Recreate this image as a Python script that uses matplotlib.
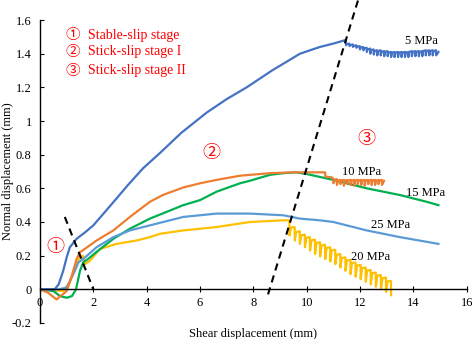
import numpy as np
import matplotlib
matplotlib.use("Agg")
import matplotlib.pyplot as plt

plt.rcParams['font.family'] = ['Liberation Serif', 'Noto Sans CJK SC', 'DejaVu Sans']

# ---- data ----
# 5 MPa
x5 = [0, 0.55, 0.7, 0.87, 1.0, 1.12, 1.37, 1.7, 2.0, 2.6, 3.3, 3.87, 4.5, 5.3, 6.25,
      7.0, 7.75, 8.7, 9.75, 10.5, 11.0, 11.44]
y5 = [0, 0, 0.03, 0.11, 0.19, 0.25, 0.30, 0.34, 0.38, 0.49, 0.62, 0.72, 0.81, 0.93,
      1.05, 1.13, 1.20, 1.30, 1.40, 1.44, 1.46, 1.48]
x5_ss = [11.47, 11.60, 11.73, 11.86, 11.99, 12.12, 12.25, 12.38, 12.51, 12.64, 12.77,
         12.90, 13.03, 13.16, 13.29, 13.42, 13.55, 13.68, 13.81, 13.94, 14.07, 14.20,
         14.33, 14.46, 14.59, 14.72, 14.85]
top5_ss = [1.48, 1.46, 1.455, 1.45, 1.445, 1.44, 1.435, 1.43, 1.425, 1.42, 1.42, 1.415,
           1.415, 1.41, 1.41, 1.41, 1.41, 1.41, 1.41, 1.415, 1.415, 1.415, 1.415, 1.42,
           1.42, 1.42, 1.42]
bot5_ss = [1.45, 1.445, 1.44, 1.435, 1.425, 1.42, 1.41, 1.40, 1.395, 1.39, 1.39, 1.385,
           1.385, 1.38, 1.38, 1.38, 1.38, 1.38, 1.38, 1.385, 1.385, 1.385, 1.385, 1.39,
           1.39, 1.39, 1.39]
x5_end, y5_end = [14.94], [1.41]

# 10 MPa
x10 = [0, 0.3, 0.62, 0.85, 1.0, 1.2, 1.37, 1.5, 2.12, 2.75, 3.37, 4.12, 4.6, 5.37, 6.0,
       6.62, 7.5, 7.87, 8.62, 9.5, 10.69, 10.70, 10.95]
y10 = [0, -0.02, -0.06, -0.03, -0.01, 0.08, 0.18, 0.22, 0.29, 0.35, 0.43, 0.52, 0.56,
       0.605, 0.63, 0.65, 0.675, 0.68, 0.69, 0.695, 0.695, 0.67, 0.665]
x10_ss = [11.0, 11.13, 11.26, 11.39, 11.52, 11.65, 11.78, 11.91, 12.04, 12.17, 12.30,
          12.43, 12.56, 12.69, 12.82]
top10_ss = [0.655, 0.655, 0.65, 0.65, 0.65, 0.65, 0.65, 0.65, 0.65, 0.65, 0.65, 0.65,
            0.65, 0.65, 0.65]
bot10_ss = [0.63, 0.62, 0.625, 0.615, 0.625, 0.62, 0.615, 0.625, 0.62, 0.615, 0.625,
            0.62, 0.62, 0.625, 0.62]
x10_end, y10_end = [12.9], [0.645]

# 15 MPa
x15 = [0, 0.5, 0.75, 1.0, 1.2, 1.35, 1.5, 1.62, 1.8, 2.1, 2.75, 3.37, 4.12, 5.37, 6.0,
       6.62, 7.5, 7.87, 8.62, 9.12, 9.6, 10.0, 11.0, 12.25, 13.5, 14.5, 14.94]
y15 = [0, -0.01, -0.04, -0.05, -0.04, 0.0, 0.11, 0.16, 0.18, 0.22, 0.30, 0.36, 0.42,
       0.50, 0.53, 0.58, 0.63, 0.645, 0.68, 0.69, 0.695, 0.685, 0.65, 0.60, 0.56, 0.52,
       0.50]

# 20 MPa
x20 = [0, 0.87, 1.1, 1.29, 1.5, 1.6, 1.69, 1.87, 2.25, 2.87, 3.62, 4.12, 4.5, 5.37,
       6.62, 7.87, 9.12]
y20 = [0, -0.01, 0.04, 0.13, 0.19, 0.20, 0.15, 0.17, 0.24, 0.27, 0.29, 0.31, 0.33,
       0.35, 0.37, 0.40, 0.41]
x20_ss = [9.35, 9.55, 9.74, 9.93, 10.12, 10.31, 10.50, 10.69, 10.88, 11.07, 11.26,
          11.45, 11.64, 11.83, 12.02, 12.21, 12.40, 12.59, 12.78, 12.97, 13.16]
top20_ss = [0.41, 0.37, 0.345, 0.325, 0.31, 0.295, 0.28, 0.265, 0.25, 0.235, 0.21,
            0.19, 0.175, 0.16, 0.145, 0.13, 0.115, 0.10, 0.085, 0.07, 0.05]
bot20_ss = [0.32, 0.29, 0.27, 0.25, 0.23, 0.21, 0.195, 0.18, 0.165, 0.15, 0.13, 0.11,
            0.09, 0.075, 0.06, 0.045, 0.03, 0.015, 0.0, -0.015, -0.035]

# 25 MPa
x25 = [0, 0.69, 1.0, 1.25, 1.44, 1.62, 2.12, 2.75, 3.37, 3.62, 4.37, 5.37, 6.62, 7.87,
       9.12, 9.75, 10.5, 11.0, 12.25, 13.5, 14.94]
y25 = [0, 0.0, 0.01, 0.09, 0.16, 0.18, 0.25, 0.31, 0.35, 0.36, 0.39, 0.43, 0.45, 0.45,
       0.44, 0.42, 0.41, 0.40, 0.35, 0.31, 0.27]

# stage boundaries (dashed)
b1_x, b1_y = [0.93, 2.0], [0.43, 0.0]
b2_x, b2_y = [8.55, 11.95], [-0.03, 1.73]

labels = ["5 MPa", "10 MPa", "15 MPa", "20 MPa", "25 MPa"]
label_x = [14.31, 12.07, 14.44, 12.40, 13.15]
label_y = [1.478, 0.70, 0.575, 0.194, 0.384]

stage_marks = ["\u2460", "\u2461", "\u2462"]
stage_x = [0.57, 6.44, 12.25]
stage_y = [0.25, 0.81, 0.895]
legend_text = ["Stable-slip stage", "Stick-slip stage I", "Stick-slip stage II"]
legend_y = [1.51, 1.41, 1.30]

RED = "#FF0000"


def stick_slip(xs, tops, bots):
    """Polyline through stick-slip teeth: sudden drop at each x, quick recovery."""
    px, py = [], []
    for i in range(len(xs)):
        px += [xs[i], xs[i] + 0.005]
        py += [tops[i], bots[i]]
        if i + 1 < len(xs):
            px.append(xs[i] + 0.3 * (xs[i + 1] - xs[i]))
            py.append(tops[i + 1] - 0.004)
    return px, py


def series(x, y, ss=None, end=None):
    xs, ys = list(x), list(y)
    if ss:
        sx, sy = stick_slip(*ss)
        xs += sx
        ys += sy
    if end:
        xs += end[0]
        ys += end[1]
    return xs, ys


fig = plt.figure(figsize=(4.74, 3.39), dpi=100)
ax = fig.add_axes([0.0844, 0.0472, 0.9002, 0.8938])

lw = 1.6
ax.plot(*series(x20, y20, (x20_ss, top20_ss, bot20_ss)), color="#FFC000", lw=lw)
ax.plot(*series(x15, y15), color="#00B050", lw=lw)
ax.plot(*series(x25, y25), color="#5B9BD5", lw=lw)
ax.plot(*series(x10, y10, (x10_ss, top10_ss, bot10_ss), (x10_end, y10_end)),
        color="#ED7D31", lw=lw)
ax.plot(*series(x5, y5, (x5_ss, top5_ss, bot5_ss), (x5_end, y5_end)),
        color="#4472C4", lw=lw)

ax.plot(b1_x, b1_y, color="black", lw=1.5, dashes=(3.5, 2.5))
ax.plot(b2_x, b2_y, color="black", lw=1.5, dashes=(3.5, 2.5), clip_on=False)

for t, x, y in zip(labels, label_x, label_y):
    ax.text(x, y, t, fontsize=9, ha="center", va="center")

for t, x, y in zip(stage_marks, stage_x, stage_y):
    ax.text(x, y, t, fontsize=13, color=RED, ha="center", va="center",
            family=["Noto Sans CJK SC"])

for t, m, y in zip(legend_text, stage_marks, legend_y):
    ax.text(1.22, y, m, fontsize=10.5, color=RED, ha="center", va="center",
            family=["Noto Sans CJK SC"])
    ax.text(1.8, y, t, fontsize=10, color=RED, ha="left", va="center")

ax.set_xlim(0, 16)
ax.set_ylim(-0.2, 1.6)
ax.spines["top"].set_visible(False)
ax.spines["right"].set_visible(False)
ax.spines["bottom"].set_position(("data", 0))
ax.spines["left"].set_linewidth(1.0)
ax.spines["bottom"].set_linewidth(1.0)

yt = np.round(np.arange(-0.2, 1.61, 0.2), 1)
ax.set_yticks(yt)
ax.set_yticklabels(["0" if v == 0 else ("1" if v == 1 else f"{v:g}") for v in yt])
ax.set_xticks(range(0, 17, 2))
ax.tick_params(axis="y", direction="in", length=3, labelsize=9, pad=6)
ax.tick_params(axis="x", direction="inout", length=5, labelsize=9, pad=3)

ax.text(0.5, -0.035, "Shear displacement (mm)", transform=ax.transAxes,
        ha="center", va="center", fontsize=9)
ax.text(-0.075, 0.5, "Normal displacement (mm)", transform=ax.transAxes,
        ha="center", va="center", rotation=90, fontsize=9)

fig.savefig("out.png", dpi=100)
